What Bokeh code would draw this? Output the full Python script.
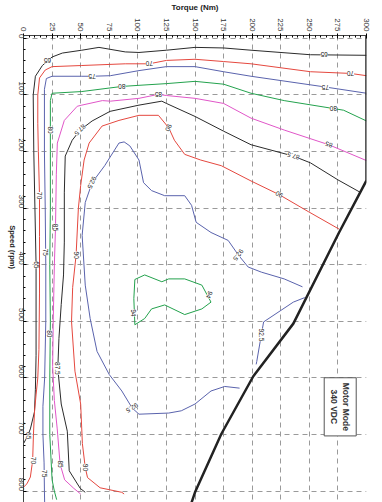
import math
from bokeh.plotting import figure
from bokeh.models import Range1d, Label, FixedTicker
from bokeh.core.properties import value
from bokeh.embed import file_html
from bokeh.resources import INLINE

FONT = "Liberation Sans"

torque_ticks = list(range(0, 301, 25))
torque_minor = list(range(0, 301, 5))
speed_ticks = list(range(0, 801, 100))
speed_minor = list(range(0, 801, 20))

# Efficiency contours (torque Nm, speed rpm)
c65_T = [0, 3.5, 6, 9.6, 10.4, 11, 11, 11, 10, 9, 8.5, 10.4, 16.5, 25, 34, 51, 66, 89, 101, 125, 150, 175, 199, 251, 300]
c65_S = [716, 703, 690, 660, 620, 560, 500, 400, 300, 200, 100, 67, 48, 33, 26, 21, 16, 24, 25, 21, 16, 17, 21, 29, 30]

c70_T = [0, 3, 6, 8, 8.7, 9.6, 11, 12.5, 13.5, 14, 14, 14, 13, 12.5, 12.5, 14, 19, 25, 51, 89, 110, 125, 150, 175, 199, 251, 286, 300]
c70_S = [793, 787, 775, 746, 700, 660, 630, 600, 550, 450, 350, 278, 200, 150, 100, 70, 56, 50, 48, 45, 45, 39, 37, 41, 45, 59, 62, 66]

c75_T = [18.5, 18.3, 18, 17, 17, 18.5, 19.5, 19.5, 19, 18.3, 18.3, 20, 25, 51, 60, 76, 101, 125, 150, 175, 199, 264, 300]
c75_S = [820, 800, 750, 700, 650, 600, 500, 400, 300, 200, 90, 71, 67, 67, 67, 66, 57, 50, 50, 59, 67, 86, 97]

c80_T = [29, 27, 25, 23, 23, 23.5, 23, 23.5, 23.5, 23.5, 25, 51, 86, 101, 125, 150, 175, 199, 228, 271, 280, 300]
c80_S = [815, 800, 780, 700, 600, 500, 400, 300, 200, 110, 97, 94, 85, 83, 80, 76, 81, 97, 110, 124, 127, 146]

c85_T = [50, 44, 36, 32, 29.5, 27, 25.5, 26, 27, 28, 28.7, 29.6, 35.7, 47, 51, 69, 76, 101, 118, 125, 150, 175, 199, 228, 267, 300]
c85_S = [805, 795, 780, 752, 690, 640, 580, 500, 400, 334, 240, 185, 145, 120, 118, 110, 111, 106, 99, 101, 106, 115, 141, 162, 188, 216]

c875_T = [54, 49.6, 40, 38.3, 33, 30, 31, 33, 35, 35.7, 35.7, 36.5, 42.6, 49.6, 60, 75.7, 101, 121, 125, 150, 175, 199, 236, 251, 275, 294.5]
c875_S = [802, 795, 764, 694, 646, 583, 530, 470, 418, 360, 273, 208, 180, 162, 146, 129, 118, 111, 115, 138, 164, 188, 208, 220, 250, 272]

c90_T = [88, 86, 67, 56, 54, 51.5, 50, 45, 42, 43, 46, 48, 50, 53, 57.4, 68.7, 83.5, 101, 118, 127, 132, 141, 155, 173, 199, 223.5, 249, 276]
c90_S = [805, 802, 794, 776, 758, 716, 646, 588, 500, 440, 383, 300, 260, 215, 185, 155, 145, 136, 136, 158, 180, 205, 215, 225, 252, 276, 306, 337]

c925a_T = [244, 228, 208, 196.5, 188, 179, 164, 151, 147, 141, 123.5, 112, 105, 101, 93, 88, 83.5, 71, 60, 54, 51.3, 54, 58.3, 64.3, 75, 86, 95, 101, 127, 138, 150, 164, 176, 189]
c925a_S = [439, 425, 413, 404, 383, 357, 343, 325, 295, 278, 278, 269, 255, 215, 190, 183, 185, 225, 255, 290, 348, 436, 495, 553, 594, 623, 653, 664, 662, 658, 646, 623, 615, 618]

c925b_T = [246, 236, 210, 208, 204, 203.5]
c925b_S = [458, 466, 501, 524, 571, 576]

c94_T = [96.5, 97.4, 106, 121, 127, 141, 156, 164, 156, 141, 123.5, 112, 106, 97.4, 96.5]
c94_S = [460, 426, 418, 430, 425, 425, 436, 466, 478, 488, 471, 478, 495, 506, 460]

# Maximum torque envelope
maxT_T = [300, 300, 276, 236, 201, 173, 150, 147]
maxT_S = [-5, 251, 343, 504, 597, 699, 802, 820]

# Contour labels
lab_T = [21, 263, 11, 4, 110, 286, 14, 8.5, 60, 264, 19.5, 18.3, 23.5, 86, 271, 23,
         118, 267, 28, 32, 49.6, 236, 30, 127, 223.5, 46, 54, 60, 188, 95, 208, 96.5, 162.6]
lab_S = [40, 29, 400, 702, 45, 62, 278, 746, 67, 86, 378, 769, 162, 85, 124, 522,
         99, 188, 334, 752, 162, 208, 583, 158, 276, 383, 758, 255, 383, 653, 524, 485, 453]
lab_txt = ["65", "65", "65", "65", "70", "70", "70", "70", "75", "75", "75", "75", "80", "80", "80", "80",
           "85", "85", "85", "85", "87.5", "87.5", "87.5", "90", "90", "90", "90", "92.5", "92.5", "92.5", "92.5", "94", "94"]
H = math.pi
V = -math.pi / 2
lab_ang = [H, H, V, V, H, H, V, V, H, H, V, V, V, H, H, V,
           H, 2.85, V, V, -2.36, 2.85, V, -2.0, 2.6, V, V, -2.0, -2.2, -2.6, V, V, -2.0]

BLACK = "#2b2b2b"
RED = "#e5483f"
BLUE = "#5a63ad"
GREEN = "#23a24d"
MAGENTA = "#e056c8"

p = figure(width=382, height=502, output_backend="svg", toolbar_location=None,
           x_range=Range1d(0, 300), y_range=Range1d(820, -5),
           x_axis_location="above", min_border_left=21, min_border_right=16,
           min_border_top=30, min_border_bottom=0)
p.outline_line_color = None
p.background_fill_color = "white"

xa = p.xaxis[0]
xa.ticker = FixedTicker(ticks=torque_ticks, minor_ticks=torque_minor)
xa.major_label_orientation = -math.pi / 2
xa.axis_label = "Torque (Nm)"
xa.axis_label_text_font = FONT
xa.axis_label_text_font_size = "8px"
xa.axis_label_text_font_style = "bold"
xa.axis_label_text_color = "#222"
xa.axis_label_standoff = 3
xa.major_label_text_font = FONT
xa.major_label_text_font_size = "8px"
xa.major_label_text_color = "#333"
xa.major_label_standoff = 2
xa.major_tick_in = 3
xa.major_tick_out = 2
xa.minor_tick_in = 2
xa.minor_tick_out = 0
xa.axis_line_color = "#444"

ya = p.yaxis[0]
ya.ticker = FixedTicker(ticks=speed_ticks, minor_ticks=speed_minor)
ya.major_label_orientation = -math.pi / 2
ya.major_label_text_font = FONT
ya.major_label_text_font_size = "8px"
ya.major_label_text_color = "#333"
ya.major_label_standoff = 2
ya.major_tick_in = 3
ya.major_tick_out = 0
ya.minor_tick_in = 2
ya.minor_tick_out = 0
ya.axis_line_color = "#444"
ya.axis_label = "Speed (rpm)"
ya.axis_label_text_font = FONT
ya.axis_label_text_font_size = "7.5px"
ya.axis_label_text_font_style = "bold"
ya.axis_label_text_color = "#222"
ya.axis_label_standoff = 1
try:
    ya.axis_label_orientation = -math.pi / 2
except Exception:
    pass

for g in (p.xgrid[0], p.ygrid[0]):
    g.grid_line_color = "#9a9a9a"
    g.grid_line_dash = "5 4"
    g.grid_line_width = 1

contours = [
    (c65_T, c65_S, BLACK), (c70_T, c70_S, RED), (c75_T, c75_S, BLUE),
    (c80_T, c80_S, GREEN), (c85_T, c85_S, MAGENTA), (c875_T, c875_S, BLACK),
    (c90_T, c90_S, RED), (c925a_T, c925a_S, BLUE), (c925b_T, c925b_S, BLUE),
    (c94_T, c94_S, GREEN),
]
for tx, sy, col in contours:
    p.line(tx, sy, line_color=col, line_width=1)

p.line(maxT_T, maxT_S, line_color="#222", line_width=2.5)

p.text(x=lab_T, y=lab_S, text=lab_txt, angle=lab_ang,
       text_font=value(FONT), text_font_size="6.5px", text_color="#222",
       text_align="center", text_baseline="middle",
       background_fill_color="white")

p.add_layout(Label(x=277, y=651, text="Motor Mode\n340 VDC", angle=-math.pi / 2,
                   text_align="center", text_baseline="middle",
                   text_font=FONT, text_font_size="8.5px", text_font_style="bold",
                   text_color="#333", background_fill_color="white",
                   border_line_color="#555", border_line_width=1, padding=5))

open("out.html", "w").write(file_html(p, INLINE))
